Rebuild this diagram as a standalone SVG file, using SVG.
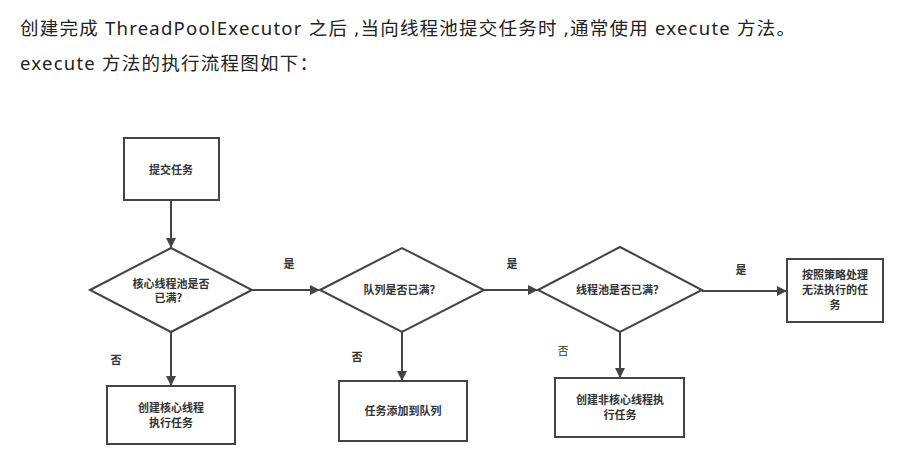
<svg xmlns="http://www.w3.org/2000/svg" width="905" height="473" viewBox="0 0 905 473">
<style>
.s{fill:#fff;stroke:#444;stroke-width:2}
.t{font-family:"Liberation Sans","Noto Sans CJK SC",sans-serif;font-size:11px;font-weight:bold;fill:#333;text-anchor:middle}
.h{font-family:"Noto Sans","Noto Sans CJK SC",sans-serif;font-size:18.5px;fill:#222}
.c{stroke:#444;stroke-width:2;fill:none;marker-end:url(#a)}
</style>
<defs><marker id="a" markerWidth="10" markerHeight="10" refX="9" refY="5" orient="auto" markerUnits="userSpaceOnUse"><path d="M0,0L10,5L0,10z" fill="#444"/></marker></defs>
<rect width="905" height="473" fill="#fff"/>
<text class="h" x="20" y="35" textLength="775" lengthAdjust="spacing">创建完成 ThreadPoolExecutor 之后 ,当向线程池提交任务时 ,通常使用 execute 方法。</text>
<text class="h" x="20" y="70" textLength="298" lengthAdjust="spacing">execute 方法的执行流程图如下：</text>
<g id="connectors">
<path class="c" d="M171,200V247"/>
<path class="c" d="M252,290H319"/>
<path class="c" d="M484,290H537"/>
<path class="c" d="M702,291H786"/>
<path class="c" d="M171,332V385"/>
<path class="c" d="M402,332V380"/>
<path class="c" d="M620,332V377"/>
<text class="t" x="289" y="268">是</text>
<text class="t" x="512" y="268">是</text>
<text class="t" x="741" y="274">是</text>
<text class="t" x="116" y="364">否</text>
<text class="t" x="357" y="361">否</text>
<text class="t" x="563" y="355" style="font-weight:normal">否</text>
</g>
<g id="n1"><rect class="s" x="124" y="138" width="95" height="62"/><text class="t" x="171" y="174">提交任务</text></g>
<g id="n2"><path class="s" d="M90,290L171,248L252,290L171,332Z"/><text class="t" x="171" y="288">核心线程池是否</text><text class="t" x="171" y="302">已满？</text></g>
<g id="n3"><path class="s" d="M320,290L402,248L484,290L402,332Z"/><text class="t" x="402" y="294">队列是否已满？</text></g>
<g id="n4"><path class="s" d="M538,290L620,247L702,290L620,332Z"/><text class="t" x="620" y="294">线程池是否已满？</text></g>
<g id="n5"><rect class="s" x="787" y="259" width="96" height="63"/><text class="t" x="835" y="279">按照策略处理</text><text class="t" x="835" y="294">无法执行的任</text><text class="t" x="835" y="309">务</text></g>
<g id="n6"><rect class="s" x="107" y="386" width="128" height="58"/><text class="t" x="171" y="412">创建核心线程</text><text class="t" x="171" y="427">执行任务</text></g>
<g id="n7"><rect class="s" x="339" y="381" width="128" height="60"/><text class="t" x="403" y="415">任务添加到队列</text></g>
<g id="n8"><rect class="s" x="555" y="378" width="129" height="59"/><text class="t" x="620" y="404">创建非核心线程执</text><text class="t" x="620" y="419">行任务</text></g>
</svg>
